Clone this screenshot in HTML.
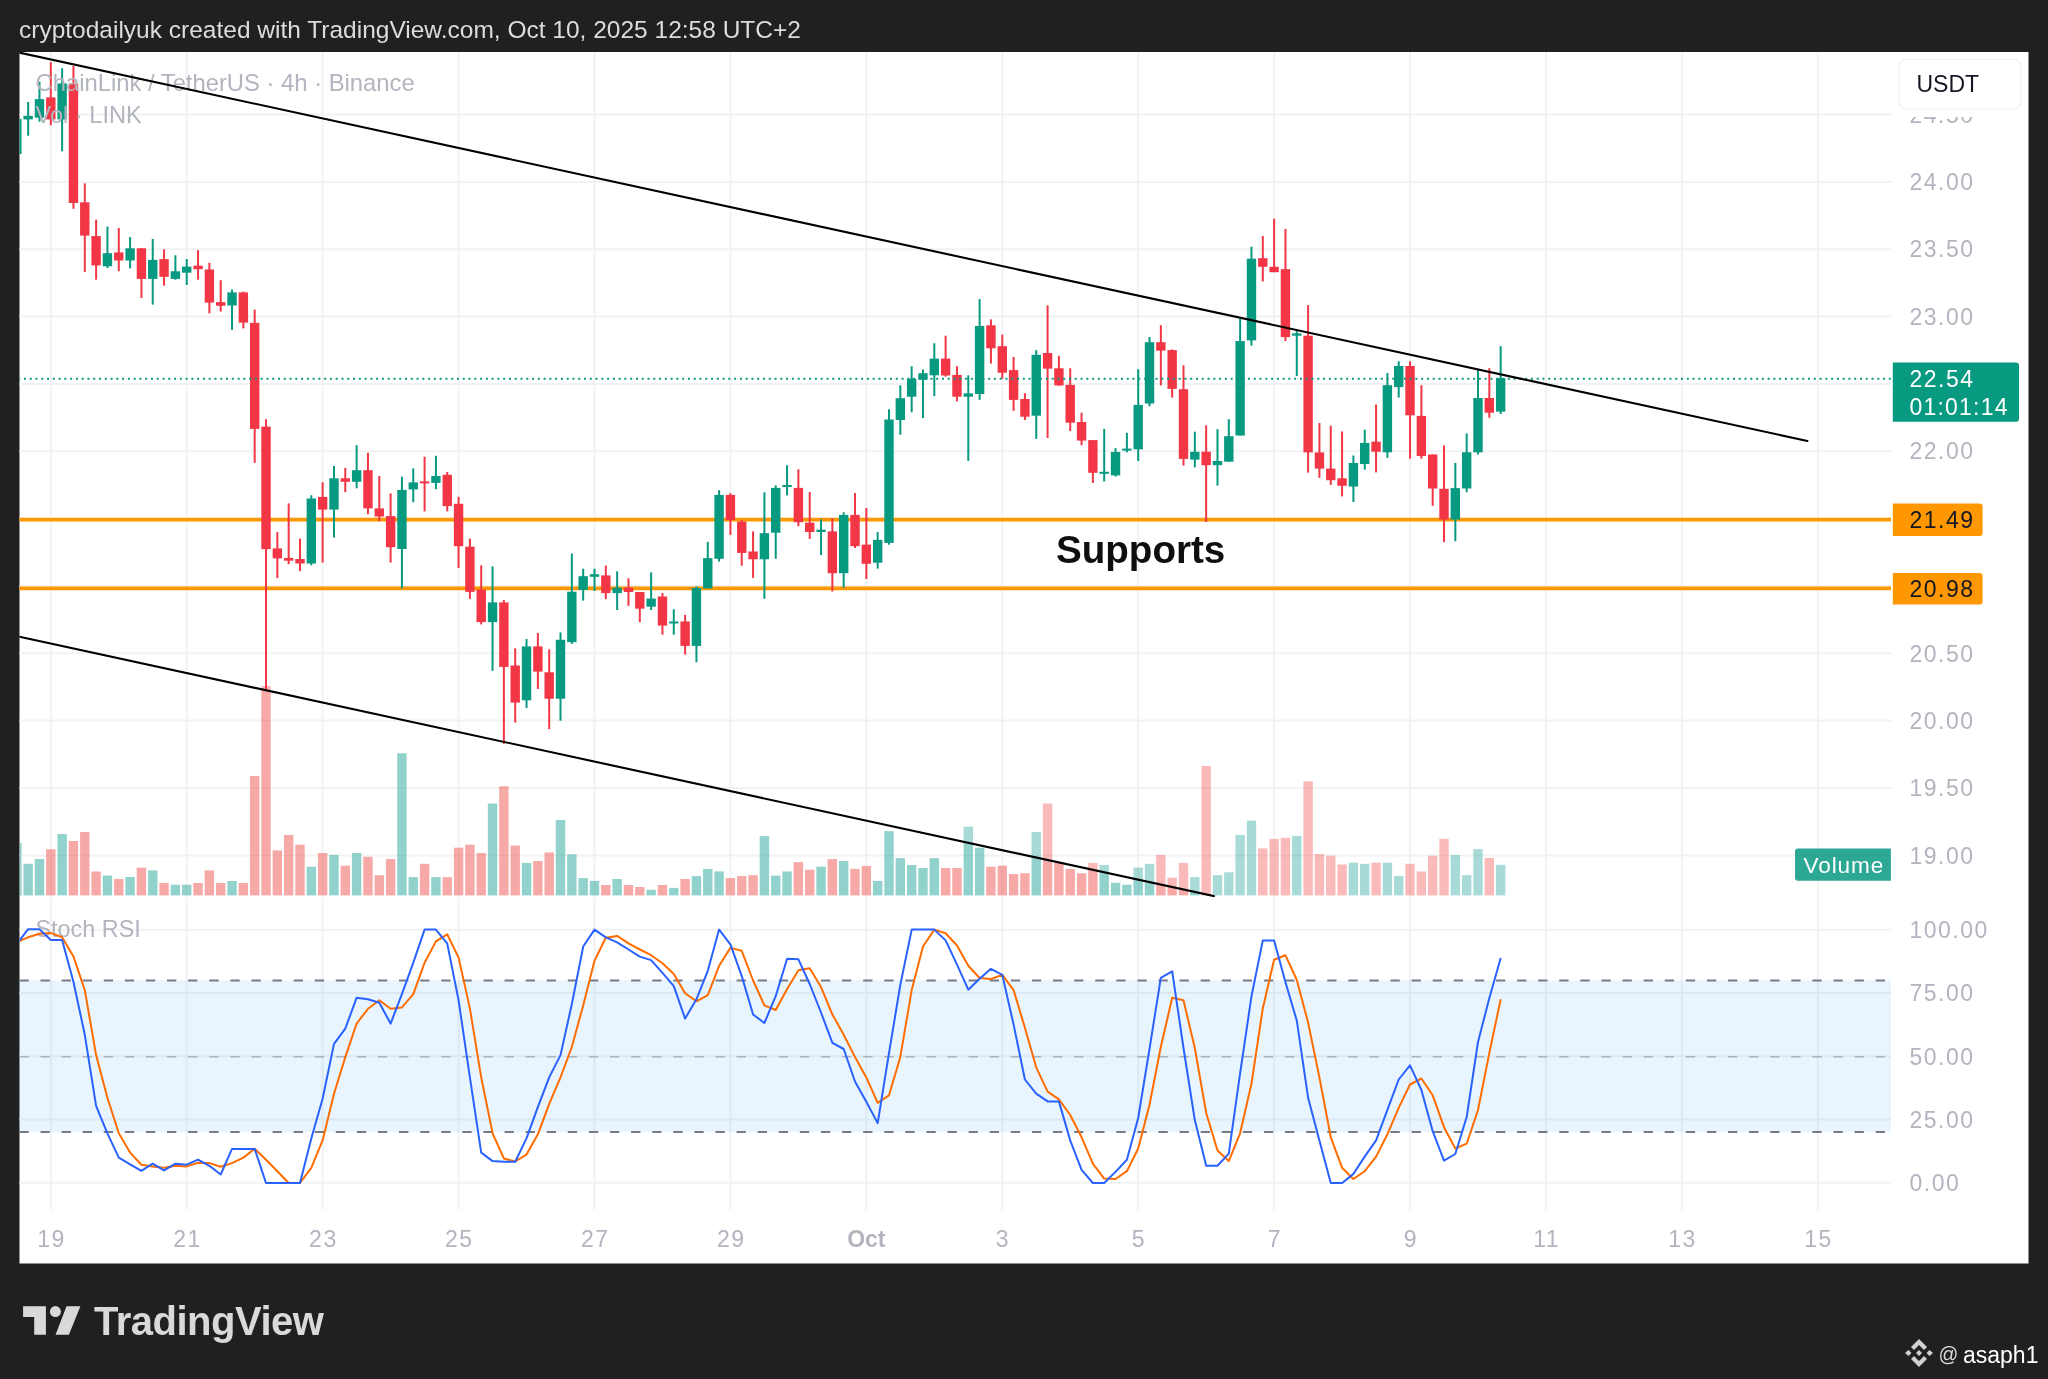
<!DOCTYPE html><html><head><meta charset="utf-8"><style>
html,body{margin:0;padding:0;background:#202020;width:2048px;height:1379px;overflow:hidden}
svg{position:absolute;left:0;top:0;font-family:"Liberation Sans",sans-serif;will-change:transform}
</style></head><body>
<svg width="2048" height="1379" viewBox="0 0 2048 1379">
<rect x="0" y="0" width="2048" height="1379" fill="#202020"/>
<rect x="19.5" y="52" width="2009" height="1211.5" fill="#ffffff"/>
<defs><clipPath id="cp"><rect x="19.5" y="52" width="1871.5" height="845"/></clipPath>
<clipPath id="cps"><rect x="19.5" y="898" width="1871.5" height="312"/></clipPath>
<clipPath id="below"><polygon points="19.5,636.7 1213.9,896.1 1213.9,900 19.5,900"/></clipPath>
<clipPath id="above"><polygon points="19.5,52 1891,52 1891,900 1213.9,900 1213.9,896.1 19.5,636.7"/></clipPath>
</defs>
<path d="M19.5 855.4H1891M19.5 788.0H1891M19.5 720.6H1891M19.5 653.3H1891M19.5 586.0H1891M19.5 518.6H1891M19.5 451.2H1891M19.5 383.9H1891M19.5 316.6H1891M19.5 249.2H1891M19.5 181.9H1891M19.5 114.5H1891M50.8 52V897M50.8 898V1210M186.7 52V897M186.7 898V1210M322.6 52V897M322.6 898V1210M458.6 52V897M458.6 898V1210M594.5 52V897M594.5 898V1210M730.4 52V897M730.4 898V1210M866.3 52V897M866.3 898V1210M1002.3 52V897M1002.3 898V1210M1138.2 52V897M1138.2 898V1210M1274.1 52V897M1274.1 898V1210M1410.0 52V897M1410.0 898V1210M1546.0 52V897M1546.0 898V1210M1681.9 52V897M1681.9 898V1210M1817.8 52V897M1817.8 898V1210M19.5 1182.7H1891M19.5 1119.5H1891M19.5 1056.2H1891M19.5 993.0H1891M19.5 929.8H1891" stroke="#f2f2f3" stroke-width="2" fill="none"/>
<rect x="19.5" y="980.4" width="1871.5" height="151.7" fill="#2196f3" fill-opacity="0.1"/>
<path d="M19.4 980.4H1891M19.4 1132.1H1891" stroke="#787b86" stroke-width="2" stroke-dasharray="9.3 11.794" fill="none"/>
<path d="M19.4 1056.7H1891" stroke="#787b86" stroke-opacity="0.5" stroke-width="1.6" stroke-dasharray="9.3 11.794" fill="none"/>
<g clip-path="url(#below)"><g clip-path="url(#cp)" fill-opacity="0.5"><rect x="12.12" y="843.0" width="9.4" height="52.4" fill="#26a69a"/><rect x="23.45" y="863.8" width="9.4" height="31.6" fill="#26a69a"/><rect x="34.77" y="859.0" width="9.4" height="36.4" fill="#26a69a"/><rect x="46.10" y="849.2" width="9.4" height="46.2" fill="#ef5350"/><rect x="57.43" y="834.0" width="9.4" height="61.4" fill="#26a69a"/><rect x="68.75" y="841.0" width="9.4" height="54.4" fill="#ef5350"/><rect x="80.08" y="832.0" width="9.4" height="63.4" fill="#ef5350"/><rect x="91.41" y="871.5" width="9.4" height="23.9" fill="#ef5350"/><rect x="102.73" y="875.5" width="9.4" height="19.9" fill="#26a69a"/><rect x="114.06" y="879.0" width="9.4" height="16.4" fill="#ef5350"/><rect x="125.39" y="877.0" width="9.4" height="18.4" fill="#26a69a"/><rect x="136.72" y="867.7" width="9.4" height="27.7" fill="#ef5350"/><rect x="148.04" y="870.4" width="9.4" height="25.0" fill="#26a69a"/><rect x="159.37" y="883.0" width="9.4" height="12.4" fill="#ef5350"/><rect x="170.70" y="884.7" width="9.4" height="10.7" fill="#26a69a"/><rect x="182.02" y="884.7" width="9.4" height="10.7" fill="#26a69a"/><rect x="193.35" y="883.0" width="9.4" height="12.4" fill="#ef5350"/><rect x="204.68" y="870.4" width="9.4" height="25.0" fill="#ef5350"/><rect x="216.00" y="883.0" width="9.4" height="12.4" fill="#ef5350"/><rect x="227.33" y="881.0" width="9.4" height="14.4" fill="#26a69a"/><rect x="238.66" y="883.0" width="9.4" height="12.4" fill="#ef5350"/><rect x="249.99" y="776.0" width="9.4" height="119.4" fill="#ef5350"/><rect x="261.31" y="686.0" width="9.4" height="209.4" fill="#ef5350"/><rect x="272.64" y="850.4" width="9.4" height="45.0" fill="#ef5350"/><rect x="283.97" y="835.0" width="9.4" height="60.4" fill="#ef5350"/><rect x="295.29" y="844.7" width="9.4" height="50.7" fill="#ef5350"/><rect x="306.62" y="866.7" width="9.4" height="28.7" fill="#26a69a"/><rect x="317.95" y="853.0" width="9.4" height="42.4" fill="#ef5350"/><rect x="329.28" y="854.9" width="9.4" height="40.5" fill="#26a69a"/><rect x="340.60" y="865.7" width="9.4" height="29.7" fill="#ef5350"/><rect x="351.93" y="853.0" width="9.4" height="42.4" fill="#26a69a"/><rect x="363.26" y="856.8" width="9.4" height="38.6" fill="#ef5350"/><rect x="374.58" y="875.2" width="9.4" height="20.2" fill="#ef5350"/><rect x="385.91" y="859.1" width="9.4" height="36.3" fill="#ef5350"/><rect x="397.24" y="753.3" width="9.4" height="142.1" fill="#26a69a"/><rect x="408.56" y="877.1" width="9.4" height="18.3" fill="#26a69a"/><rect x="419.89" y="863.8" width="9.4" height="31.6" fill="#ef5350"/><rect x="431.22" y="877.1" width="9.4" height="18.3" fill="#26a69a"/><rect x="442.55" y="877.1" width="9.4" height="18.3" fill="#ef5350"/><rect x="453.87" y="847.7" width="9.4" height="47.7" fill="#ef5350"/><rect x="465.20" y="844.7" width="9.4" height="50.7" fill="#ef5350"/><rect x="476.53" y="853.0" width="9.4" height="42.4" fill="#ef5350"/><rect x="487.85" y="803.5" width="9.4" height="91.9" fill="#26a69a"/><rect x="499.18" y="786.3" width="9.4" height="109.1" fill="#ef5350"/><rect x="510.51" y="845.5" width="9.4" height="49.9" fill="#ef5350"/><rect x="521.83" y="862.9" width="9.4" height="32.5" fill="#26a69a"/><rect x="533.16" y="861.0" width="9.4" height="34.4" fill="#ef5350"/><rect x="544.49" y="852.4" width="9.4" height="43.0" fill="#ef5350"/><rect x="555.81" y="820.0" width="9.4" height="75.4" fill="#26a69a"/><rect x="567.14" y="854.3" width="9.4" height="41.1" fill="#26a69a"/><rect x="578.47" y="878.1" width="9.4" height="17.3" fill="#26a69a"/><rect x="589.80" y="880.9" width="9.4" height="14.5" fill="#26a69a"/><rect x="601.12" y="885.0" width="9.4" height="10.4" fill="#ef5350"/><rect x="612.45" y="879.0" width="9.4" height="16.4" fill="#26a69a"/><rect x="623.78" y="885.0" width="9.4" height="10.4" fill="#ef5350"/><rect x="635.10" y="887.0" width="9.4" height="8.4" fill="#ef5350"/><rect x="646.43" y="889.8" width="9.4" height="5.6" fill="#26a69a"/><rect x="657.76" y="885.0" width="9.4" height="10.4" fill="#ef5350"/><rect x="669.08" y="887.9" width="9.4" height="7.5" fill="#26a69a"/><rect x="680.41" y="879.0" width="9.4" height="16.4" fill="#ef5350"/><rect x="691.74" y="876.1" width="9.4" height="19.3" fill="#26a69a"/><rect x="703.07" y="868.9" width="9.4" height="26.5" fill="#26a69a"/><rect x="714.39" y="871.4" width="9.4" height="24.0" fill="#26a69a"/><rect x="725.72" y="878.1" width="9.4" height="17.3" fill="#ef5350"/><rect x="737.05" y="876.1" width="9.4" height="19.3" fill="#ef5350"/><rect x="748.37" y="875.2" width="9.4" height="20.2" fill="#ef5350"/><rect x="759.70" y="836.1" width="9.4" height="59.3" fill="#26a69a"/><rect x="771.03" y="875.6" width="9.4" height="19.8" fill="#26a69a"/><rect x="782.35" y="871.4" width="9.4" height="24.0" fill="#26a69a"/><rect x="793.68" y="862.1" width="9.4" height="33.3" fill="#ef5350"/><rect x="805.01" y="869.7" width="9.4" height="25.7" fill="#ef5350"/><rect x="816.34" y="866.7" width="9.4" height="28.7" fill="#26a69a"/><rect x="827.66" y="859.1" width="9.4" height="36.3" fill="#ef5350"/><rect x="838.99" y="861.0" width="9.4" height="34.4" fill="#26a69a"/><rect x="850.32" y="868.9" width="9.4" height="26.5" fill="#ef5350"/><rect x="861.64" y="865.9" width="9.4" height="29.5" fill="#ef5350"/><rect x="872.97" y="880.9" width="9.4" height="14.5" fill="#26a69a"/><rect x="884.30" y="831.2" width="9.4" height="64.2" fill="#26a69a"/><rect x="895.62" y="858.1" width="9.4" height="37.3" fill="#26a69a"/><rect x="906.95" y="865.0" width="9.4" height="30.4" fill="#26a69a"/><rect x="918.28" y="868.0" width="9.4" height="27.4" fill="#26a69a"/><rect x="929.61" y="858.1" width="9.4" height="37.3" fill="#26a69a"/><rect x="940.93" y="868.0" width="9.4" height="27.4" fill="#ef5350"/><rect x="952.26" y="868.0" width="9.4" height="27.4" fill="#ef5350"/><rect x="963.59" y="826.6" width="9.4" height="68.8" fill="#26a69a"/><rect x="974.91" y="847.7" width="9.4" height="47.7" fill="#26a69a"/><rect x="986.24" y="866.7" width="9.4" height="28.7" fill="#ef5350"/><rect x="997.57" y="865.7" width="9.4" height="29.7" fill="#ef5350"/><rect x="1008.89" y="874.0" width="9.4" height="21.4" fill="#ef5350"/><rect x="1020.22" y="873.3" width="9.4" height="22.1" fill="#ef5350"/><rect x="1031.55" y="832.0" width="9.4" height="63.4" fill="#26a69a"/><rect x="1042.88" y="803.5" width="9.4" height="91.9" fill="#ef5350"/><rect x="1054.20" y="863.1" width="9.4" height="32.3" fill="#ef5350"/><rect x="1065.53" y="868.9" width="9.4" height="26.5" fill="#ef5350"/><rect x="1076.86" y="873.3" width="9.4" height="22.1" fill="#ef5350"/><rect x="1088.18" y="862.9" width="9.4" height="32.5" fill="#ef5350"/><rect x="1099.51" y="865.0" width="9.4" height="30.4" fill="#26a69a"/><rect x="1110.84" y="882.8" width="9.4" height="12.6" fill="#26a69a"/><rect x="1122.16" y="884.7" width="9.4" height="10.7" fill="#26a69a"/><rect x="1133.49" y="867.6" width="9.4" height="27.8" fill="#26a69a"/><rect x="1144.82" y="863.8" width="9.4" height="31.6" fill="#26a69a"/><rect x="1156.15" y="854.9" width="9.4" height="40.5" fill="#ef5350"/><rect x="1167.47" y="877.7" width="9.4" height="17.7" fill="#ef5350"/><rect x="1178.80" y="862.9" width="9.4" height="32.5" fill="#ef5350"/><rect x="1190.13" y="877.1" width="9.4" height="18.3" fill="#26a69a"/><rect x="1201.45" y="766.0" width="9.4" height="129.4" fill="#ef5350"/><rect x="1212.78" y="875.2" width="9.4" height="20.2" fill="#26a69a"/><rect x="1224.11" y="872.3" width="9.4" height="23.1" fill="#26a69a"/><rect x="1235.43" y="834.9" width="9.4" height="60.5" fill="#26a69a"/><rect x="1246.76" y="820.6" width="9.4" height="74.8" fill="#26a69a"/><rect x="1258.09" y="848.4" width="9.4" height="47.0" fill="#ef5350"/><rect x="1269.42" y="838.9" width="9.4" height="56.5" fill="#ef5350"/><rect x="1280.74" y="837.8" width="9.4" height="57.6" fill="#ef5350"/><rect x="1292.07" y="835.9" width="9.4" height="59.5" fill="#26a69a"/><rect x="1303.40" y="781.3" width="9.4" height="114.1" fill="#ef5350"/><rect x="1314.72" y="854.0" width="9.4" height="41.4" fill="#ef5350"/><rect x="1326.05" y="855.7" width="9.4" height="39.7" fill="#ef5350"/><rect x="1337.38" y="864.5" width="9.4" height="30.9" fill="#ef5350"/><rect x="1348.70" y="862.7" width="9.4" height="32.7" fill="#26a69a"/><rect x="1360.03" y="863.8" width="9.4" height="31.6" fill="#26a69a"/><rect x="1371.36" y="862.7" width="9.4" height="32.7" fill="#ef5350"/><rect x="1382.69" y="862.7" width="9.4" height="32.7" fill="#26a69a"/><rect x="1394.01" y="875.9" width="9.4" height="19.5" fill="#26a69a"/><rect x="1405.34" y="863.8" width="9.4" height="31.6" fill="#ef5350"/><rect x="1416.67" y="871.5" width="9.4" height="23.9" fill="#ef5350"/><rect x="1427.99" y="855.7" width="9.4" height="39.7" fill="#ef5350"/><rect x="1439.32" y="838.9" width="9.4" height="56.5" fill="#ef5350"/><rect x="1450.65" y="855.0" width="9.4" height="40.4" fill="#26a69a"/><rect x="1461.97" y="875.1" width="9.4" height="20.3" fill="#26a69a"/><rect x="1473.30" y="849.1" width="9.4" height="46.3" fill="#26a69a"/><rect x="1484.63" y="857.9" width="9.4" height="37.5" fill="#ef5350"/><rect x="1495.96" y="864.8" width="9.4" height="30.6" fill="#26a69a"/></g></g>
<g clip-path="url(#above)"><g clip-path="url(#cp)" fill-opacity="0.4"><rect x="12.12" y="843.0" width="9.4" height="52.4" fill="#26a69a"/><rect x="23.45" y="863.8" width="9.4" height="31.6" fill="#26a69a"/><rect x="34.77" y="859.0" width="9.4" height="36.4" fill="#26a69a"/><rect x="46.10" y="849.2" width="9.4" height="46.2" fill="#ef5350"/><rect x="57.43" y="834.0" width="9.4" height="61.4" fill="#26a69a"/><rect x="68.75" y="841.0" width="9.4" height="54.4" fill="#ef5350"/><rect x="80.08" y="832.0" width="9.4" height="63.4" fill="#ef5350"/><rect x="91.41" y="871.5" width="9.4" height="23.9" fill="#ef5350"/><rect x="102.73" y="875.5" width="9.4" height="19.9" fill="#26a69a"/><rect x="114.06" y="879.0" width="9.4" height="16.4" fill="#ef5350"/><rect x="125.39" y="877.0" width="9.4" height="18.4" fill="#26a69a"/><rect x="136.72" y="867.7" width="9.4" height="27.7" fill="#ef5350"/><rect x="148.04" y="870.4" width="9.4" height="25.0" fill="#26a69a"/><rect x="159.37" y="883.0" width="9.4" height="12.4" fill="#ef5350"/><rect x="170.70" y="884.7" width="9.4" height="10.7" fill="#26a69a"/><rect x="182.02" y="884.7" width="9.4" height="10.7" fill="#26a69a"/><rect x="193.35" y="883.0" width="9.4" height="12.4" fill="#ef5350"/><rect x="204.68" y="870.4" width="9.4" height="25.0" fill="#ef5350"/><rect x="216.00" y="883.0" width="9.4" height="12.4" fill="#ef5350"/><rect x="227.33" y="881.0" width="9.4" height="14.4" fill="#26a69a"/><rect x="238.66" y="883.0" width="9.4" height="12.4" fill="#ef5350"/><rect x="249.99" y="776.0" width="9.4" height="119.4" fill="#ef5350"/><rect x="261.31" y="686.0" width="9.4" height="209.4" fill="#ef5350"/><rect x="272.64" y="850.4" width="9.4" height="45.0" fill="#ef5350"/><rect x="283.97" y="835.0" width="9.4" height="60.4" fill="#ef5350"/><rect x="295.29" y="844.7" width="9.4" height="50.7" fill="#ef5350"/><rect x="306.62" y="866.7" width="9.4" height="28.7" fill="#26a69a"/><rect x="317.95" y="853.0" width="9.4" height="42.4" fill="#ef5350"/><rect x="329.28" y="854.9" width="9.4" height="40.5" fill="#26a69a"/><rect x="340.60" y="865.7" width="9.4" height="29.7" fill="#ef5350"/><rect x="351.93" y="853.0" width="9.4" height="42.4" fill="#26a69a"/><rect x="363.26" y="856.8" width="9.4" height="38.6" fill="#ef5350"/><rect x="374.58" y="875.2" width="9.4" height="20.2" fill="#ef5350"/><rect x="385.91" y="859.1" width="9.4" height="36.3" fill="#ef5350"/><rect x="397.24" y="753.3" width="9.4" height="142.1" fill="#26a69a"/><rect x="408.56" y="877.1" width="9.4" height="18.3" fill="#26a69a"/><rect x="419.89" y="863.8" width="9.4" height="31.6" fill="#ef5350"/><rect x="431.22" y="877.1" width="9.4" height="18.3" fill="#26a69a"/><rect x="442.55" y="877.1" width="9.4" height="18.3" fill="#ef5350"/><rect x="453.87" y="847.7" width="9.4" height="47.7" fill="#ef5350"/><rect x="465.20" y="844.7" width="9.4" height="50.7" fill="#ef5350"/><rect x="476.53" y="853.0" width="9.4" height="42.4" fill="#ef5350"/><rect x="487.85" y="803.5" width="9.4" height="91.9" fill="#26a69a"/><rect x="499.18" y="786.3" width="9.4" height="109.1" fill="#ef5350"/><rect x="510.51" y="845.5" width="9.4" height="49.9" fill="#ef5350"/><rect x="521.83" y="862.9" width="9.4" height="32.5" fill="#26a69a"/><rect x="533.16" y="861.0" width="9.4" height="34.4" fill="#ef5350"/><rect x="544.49" y="852.4" width="9.4" height="43.0" fill="#ef5350"/><rect x="555.81" y="820.0" width="9.4" height="75.4" fill="#26a69a"/><rect x="567.14" y="854.3" width="9.4" height="41.1" fill="#26a69a"/><rect x="578.47" y="878.1" width="9.4" height="17.3" fill="#26a69a"/><rect x="589.80" y="880.9" width="9.4" height="14.5" fill="#26a69a"/><rect x="601.12" y="885.0" width="9.4" height="10.4" fill="#ef5350"/><rect x="612.45" y="879.0" width="9.4" height="16.4" fill="#26a69a"/><rect x="623.78" y="885.0" width="9.4" height="10.4" fill="#ef5350"/><rect x="635.10" y="887.0" width="9.4" height="8.4" fill="#ef5350"/><rect x="646.43" y="889.8" width="9.4" height="5.6" fill="#26a69a"/><rect x="657.76" y="885.0" width="9.4" height="10.4" fill="#ef5350"/><rect x="669.08" y="887.9" width="9.4" height="7.5" fill="#26a69a"/><rect x="680.41" y="879.0" width="9.4" height="16.4" fill="#ef5350"/><rect x="691.74" y="876.1" width="9.4" height="19.3" fill="#26a69a"/><rect x="703.07" y="868.9" width="9.4" height="26.5" fill="#26a69a"/><rect x="714.39" y="871.4" width="9.4" height="24.0" fill="#26a69a"/><rect x="725.72" y="878.1" width="9.4" height="17.3" fill="#ef5350"/><rect x="737.05" y="876.1" width="9.4" height="19.3" fill="#ef5350"/><rect x="748.37" y="875.2" width="9.4" height="20.2" fill="#ef5350"/><rect x="759.70" y="836.1" width="9.4" height="59.3" fill="#26a69a"/><rect x="771.03" y="875.6" width="9.4" height="19.8" fill="#26a69a"/><rect x="782.35" y="871.4" width="9.4" height="24.0" fill="#26a69a"/><rect x="793.68" y="862.1" width="9.4" height="33.3" fill="#ef5350"/><rect x="805.01" y="869.7" width="9.4" height="25.7" fill="#ef5350"/><rect x="816.34" y="866.7" width="9.4" height="28.7" fill="#26a69a"/><rect x="827.66" y="859.1" width="9.4" height="36.3" fill="#ef5350"/><rect x="838.99" y="861.0" width="9.4" height="34.4" fill="#26a69a"/><rect x="850.32" y="868.9" width="9.4" height="26.5" fill="#ef5350"/><rect x="861.64" y="865.9" width="9.4" height="29.5" fill="#ef5350"/><rect x="872.97" y="880.9" width="9.4" height="14.5" fill="#26a69a"/><rect x="884.30" y="831.2" width="9.4" height="64.2" fill="#26a69a"/><rect x="895.62" y="858.1" width="9.4" height="37.3" fill="#26a69a"/><rect x="906.95" y="865.0" width="9.4" height="30.4" fill="#26a69a"/><rect x="918.28" y="868.0" width="9.4" height="27.4" fill="#26a69a"/><rect x="929.61" y="858.1" width="9.4" height="37.3" fill="#26a69a"/><rect x="940.93" y="868.0" width="9.4" height="27.4" fill="#ef5350"/><rect x="952.26" y="868.0" width="9.4" height="27.4" fill="#ef5350"/><rect x="963.59" y="826.6" width="9.4" height="68.8" fill="#26a69a"/><rect x="974.91" y="847.7" width="9.4" height="47.7" fill="#26a69a"/><rect x="986.24" y="866.7" width="9.4" height="28.7" fill="#ef5350"/><rect x="997.57" y="865.7" width="9.4" height="29.7" fill="#ef5350"/><rect x="1008.89" y="874.0" width="9.4" height="21.4" fill="#ef5350"/><rect x="1020.22" y="873.3" width="9.4" height="22.1" fill="#ef5350"/><rect x="1031.55" y="832.0" width="9.4" height="63.4" fill="#26a69a"/><rect x="1042.88" y="803.5" width="9.4" height="91.9" fill="#ef5350"/><rect x="1054.20" y="863.1" width="9.4" height="32.3" fill="#ef5350"/><rect x="1065.53" y="868.9" width="9.4" height="26.5" fill="#ef5350"/><rect x="1076.86" y="873.3" width="9.4" height="22.1" fill="#ef5350"/><rect x="1088.18" y="862.9" width="9.4" height="32.5" fill="#ef5350"/><rect x="1099.51" y="865.0" width="9.4" height="30.4" fill="#26a69a"/><rect x="1110.84" y="882.8" width="9.4" height="12.6" fill="#26a69a"/><rect x="1122.16" y="884.7" width="9.4" height="10.7" fill="#26a69a"/><rect x="1133.49" y="867.6" width="9.4" height="27.8" fill="#26a69a"/><rect x="1144.82" y="863.8" width="9.4" height="31.6" fill="#26a69a"/><rect x="1156.15" y="854.9" width="9.4" height="40.5" fill="#ef5350"/><rect x="1167.47" y="877.7" width="9.4" height="17.7" fill="#ef5350"/><rect x="1178.80" y="862.9" width="9.4" height="32.5" fill="#ef5350"/><rect x="1190.13" y="877.1" width="9.4" height="18.3" fill="#26a69a"/><rect x="1201.45" y="766.0" width="9.4" height="129.4" fill="#ef5350"/><rect x="1212.78" y="875.2" width="9.4" height="20.2" fill="#26a69a"/><rect x="1224.11" y="872.3" width="9.4" height="23.1" fill="#26a69a"/><rect x="1235.43" y="834.9" width="9.4" height="60.5" fill="#26a69a"/><rect x="1246.76" y="820.6" width="9.4" height="74.8" fill="#26a69a"/><rect x="1258.09" y="848.4" width="9.4" height="47.0" fill="#ef5350"/><rect x="1269.42" y="838.9" width="9.4" height="56.5" fill="#ef5350"/><rect x="1280.74" y="837.8" width="9.4" height="57.6" fill="#ef5350"/><rect x="1292.07" y="835.9" width="9.4" height="59.5" fill="#26a69a"/><rect x="1303.40" y="781.3" width="9.4" height="114.1" fill="#ef5350"/><rect x="1314.72" y="854.0" width="9.4" height="41.4" fill="#ef5350"/><rect x="1326.05" y="855.7" width="9.4" height="39.7" fill="#ef5350"/><rect x="1337.38" y="864.5" width="9.4" height="30.9" fill="#ef5350"/><rect x="1348.70" y="862.7" width="9.4" height="32.7" fill="#26a69a"/><rect x="1360.03" y="863.8" width="9.4" height="31.6" fill="#26a69a"/><rect x="1371.36" y="862.7" width="9.4" height="32.7" fill="#ef5350"/><rect x="1382.69" y="862.7" width="9.4" height="32.7" fill="#26a69a"/><rect x="1394.01" y="875.9" width="9.4" height="19.5" fill="#26a69a"/><rect x="1405.34" y="863.8" width="9.4" height="31.6" fill="#ef5350"/><rect x="1416.67" y="871.5" width="9.4" height="23.9" fill="#ef5350"/><rect x="1427.99" y="855.7" width="9.4" height="39.7" fill="#ef5350"/><rect x="1439.32" y="838.9" width="9.4" height="56.5" fill="#ef5350"/><rect x="1450.65" y="855.0" width="9.4" height="40.4" fill="#26a69a"/><rect x="1461.97" y="875.1" width="9.4" height="20.3" fill="#26a69a"/><rect x="1473.30" y="849.1" width="9.4" height="46.3" fill="#26a69a"/><rect x="1484.63" y="857.9" width="9.4" height="37.5" fill="#ef5350"/><rect x="1495.96" y="864.8" width="9.4" height="30.6" fill="#26a69a"/></g></g>
<path d="M19.5 519.7H1891M19.5 588.4H1891" stroke="#ff9800" stroke-width="3.8" fill="none"/>
<g clip-path="url(#cp)"><rect x="15.82" y="119.0" width="2" height="35.0" fill="#089981"/><rect x="12.12" y="119.0" width="9.4" height="35.0" fill="#089981"/><rect x="27.15" y="102.0" width="2" height="33.7" fill="#089981"/><rect x="23.45" y="115.9" width="9.4" height="3.5" fill="#089981"/><rect x="38.47" y="81.7" width="2" height="40.0" fill="#089981"/><rect x="34.77" y="99.1" width="9.4" height="18.6" fill="#089981"/><rect x="49.80" y="62.2" width="2" height="63.0" fill="#f23645"/><rect x="46.10" y="97.4" width="9.4" height="22.0" fill="#f23645"/><rect x="61.13" y="68.3" width="2" height="83.0" fill="#089981"/><rect x="57.43" y="83.4" width="9.4" height="36.0" fill="#089981"/><rect x="72.45" y="66.0" width="2" height="142.8" fill="#f23645"/><rect x="68.75" y="83.4" width="9.4" height="119.6" fill="#f23645"/><rect x="83.78" y="183.3" width="2" height="88.8" fill="#f23645"/><rect x="80.08" y="202.3" width="9.4" height="33.3" fill="#f23645"/><rect x="95.11" y="219.7" width="2" height="60.0" fill="#f23645"/><rect x="91.41" y="236.1" width="9.4" height="29.3" fill="#f23645"/><rect x="106.44" y="226.5" width="2" height="41.6" fill="#089981"/><rect x="102.73" y="253.2" width="9.4" height="13.1" fill="#089981"/><rect x="117.76" y="228.0" width="2" height="43.2" fill="#f23645"/><rect x="114.06" y="252.4" width="9.4" height="8.1" fill="#f23645"/><rect x="129.09" y="237.1" width="2" height="31.3" fill="#089981"/><rect x="125.39" y="248.3" width="9.4" height="12.2" fill="#089981"/><rect x="140.42" y="248.3" width="2" height="49.7" fill="#f23645"/><rect x="136.72" y="248.3" width="9.4" height="30.6" fill="#f23645"/><rect x="151.74" y="239.0" width="2" height="65.6" fill="#089981"/><rect x="148.04" y="259.9" width="9.4" height="19.0" fill="#089981"/><rect x="163.07" y="249.3" width="2" height="36.4" fill="#f23645"/><rect x="159.37" y="259.1" width="9.4" height="17.7" fill="#f23645"/><rect x="174.40" y="255.3" width="2" height="24.4" fill="#089981"/><rect x="170.70" y="271.3" width="9.4" height="7.6" fill="#089981"/><rect x="185.72" y="259.1" width="2" height="25.8" fill="#089981"/><rect x="182.02" y="266.6" width="9.4" height="6.1" fill="#089981"/><rect x="197.05" y="250.1" width="2" height="29.6" fill="#f23645"/><rect x="193.35" y="265.7" width="9.4" height="3.5" fill="#f23645"/><rect x="208.38" y="262.8" width="2" height="50.5" fill="#f23645"/><rect x="204.68" y="269.5" width="9.4" height="33.1" fill="#f23645"/><rect x="219.70" y="280.2" width="2" height="31.4" fill="#f23645"/><rect x="216.00" y="302.1" width="9.4" height="3.7" fill="#f23645"/><rect x="231.03" y="289.5" width="2" height="40.4" fill="#089981"/><rect x="227.33" y="292.4" width="9.4" height="13.1" fill="#089981"/><rect x="242.36" y="291.6" width="2" height="36.8" fill="#f23645"/><rect x="238.66" y="292.4" width="9.4" height="30.2" fill="#f23645"/><rect x="253.69" y="309.7" width="2" height="153.1" fill="#f23645"/><rect x="249.99" y="322.9" width="9.4" height="106.0" fill="#f23645"/><rect x="265.01" y="419.2" width="2" height="270.8" fill="#f23645"/><rect x="261.31" y="426.6" width="9.4" height="122.5" fill="#f23645"/><rect x="276.34" y="532.1" width="2" height="46.0" fill="#f23645"/><rect x="272.64" y="548.4" width="9.4" height="10.0" fill="#f23645"/><rect x="287.67" y="503.4" width="2" height="60.8" fill="#f23645"/><rect x="283.97" y="557.9" width="9.4" height="2.8" fill="#f23645"/><rect x="298.99" y="538.6" width="2" height="32.5" fill="#f23645"/><rect x="295.29" y="559.0" width="9.4" height="4.5" fill="#f23645"/><rect x="310.32" y="495.3" width="2" height="70.0" fill="#089981"/><rect x="306.62" y="498.5" width="9.4" height="65.0" fill="#089981"/><rect x="321.65" y="482.3" width="2" height="80.2" fill="#f23645"/><rect x="317.95" y="496.9" width="9.4" height="12.7" fill="#f23645"/><rect x="332.98" y="466.0" width="2" height="71.5" fill="#089981"/><rect x="329.28" y="478.3" width="9.4" height="31.3" fill="#089981"/><rect x="344.30" y="467.9" width="2" height="24.3" fill="#f23645"/><rect x="340.60" y="478.3" width="9.4" height="3.5" fill="#f23645"/><rect x="355.63" y="445.2" width="2" height="43.1" fill="#089981"/><rect x="351.93" y="470.2" width="9.4" height="11.6" fill="#089981"/><rect x="366.96" y="452.8" width="2" height="61.4" fill="#f23645"/><rect x="363.26" y="470.2" width="9.4" height="38.2" fill="#f23645"/><rect x="378.28" y="476.0" width="2" height="45.2" fill="#f23645"/><rect x="374.58" y="508.4" width="9.4" height="8.1" fill="#f23645"/><rect x="389.61" y="493.4" width="2" height="69.1" fill="#f23645"/><rect x="385.91" y="516.1" width="9.4" height="31.1" fill="#f23645"/><rect x="400.94" y="476.7" width="2" height="111.8" fill="#089981"/><rect x="397.24" y="489.9" width="9.4" height="59.1" fill="#089981"/><rect x="412.26" y="468.3" width="2" height="33.9" fill="#089981"/><rect x="408.56" y="482.4" width="9.4" height="7.0" fill="#089981"/><rect x="423.59" y="456.7" width="2" height="54.7" fill="#f23645"/><rect x="419.89" y="481.4" width="9.4" height="2.0" fill="#f23645"/><rect x="434.92" y="455.8" width="2" height="33.4" fill="#089981"/><rect x="431.22" y="476.0" width="9.4" height="6.9" fill="#089981"/><rect x="446.25" y="472.0" width="2" height="39.4" fill="#f23645"/><rect x="442.55" y="474.8" width="9.4" height="31.3" fill="#f23645"/><rect x="457.57" y="496.8" width="2" height="71.2" fill="#f23645"/><rect x="453.87" y="503.8" width="9.4" height="42.4" fill="#f23645"/><rect x="468.90" y="538.6" width="2" height="60.3" fill="#f23645"/><rect x="465.20" y="546.7" width="9.4" height="45.2" fill="#f23645"/><rect x="480.23" y="565.3" width="2" height="59.1" fill="#f23645"/><rect x="476.53" y="589.6" width="9.4" height="32.5" fill="#f23645"/><rect x="491.55" y="566.4" width="2" height="104.4" fill="#089981"/><rect x="487.85" y="602.4" width="9.4" height="19.7" fill="#089981"/><rect x="502.88" y="600.0" width="2" height="143.9" fill="#f23645"/><rect x="499.18" y="602.4" width="9.4" height="64.5" fill="#f23645"/><rect x="514.21" y="648.3" width="2" height="74.2" fill="#f23645"/><rect x="510.51" y="665.5" width="9.4" height="37.1" fill="#f23645"/><rect x="525.53" y="639.0" width="2" height="68.9" fill="#089981"/><rect x="521.83" y="646.4" width="9.4" height="53.9" fill="#089981"/><rect x="536.86" y="633.0" width="2" height="56.0" fill="#f23645"/><rect x="533.16" y="646.4" width="9.4" height="25.2" fill="#f23645"/><rect x="548.19" y="649.4" width="2" height="79.8" fill="#f23645"/><rect x="544.49" y="672.3" width="9.4" height="26.4" fill="#f23645"/><rect x="559.51" y="632.3" width="2" height="88.4" fill="#089981"/><rect x="555.81" y="639.8" width="9.4" height="58.9" fill="#089981"/><rect x="570.84" y="553.5" width="2" height="90.4" fill="#089981"/><rect x="567.14" y="591.7" width="9.4" height="50.5" fill="#089981"/><rect x="582.17" y="568.7" width="2" height="31.9" fill="#089981"/><rect x="578.47" y="576.2" width="9.4" height="13.8" fill="#089981"/><rect x="593.50" y="568.7" width="2" height="22.3" fill="#089981"/><rect x="589.80" y="574.2" width="9.4" height="2.6" fill="#089981"/><rect x="604.82" y="565.6" width="2" height="33.6" fill="#f23645"/><rect x="601.12" y="575.4" width="9.4" height="17.7" fill="#f23645"/><rect x="616.15" y="571.3" width="2" height="38.7" fill="#089981"/><rect x="612.45" y="587.6" width="9.4" height="5.5" fill="#089981"/><rect x="627.48" y="578.2" width="2" height="27.7" fill="#f23645"/><rect x="623.78" y="587.6" width="9.4" height="4.4" fill="#f23645"/><rect x="638.80" y="592.0" width="2" height="30.1" fill="#f23645"/><rect x="635.10" y="592.0" width="9.4" height="16.7" fill="#f23645"/><rect x="650.13" y="572.4" width="2" height="37.6" fill="#089981"/><rect x="646.43" y="598.6" width="9.4" height="8.1" fill="#089981"/><rect x="661.46" y="593.1" width="2" height="41.6" fill="#f23645"/><rect x="657.76" y="596.5" width="9.4" height="29.1" fill="#f23645"/><rect x="672.78" y="609.3" width="2" height="25.4" fill="#089981"/><rect x="669.08" y="621.5" width="9.4" height="2.0" fill="#089981"/><rect x="684.11" y="614.8" width="2" height="39.8" fill="#f23645"/><rect x="680.41" y="621.5" width="9.4" height="24.4" fill="#f23645"/><rect x="695.44" y="586.4" width="2" height="75.8" fill="#089981"/><rect x="691.74" y="588.0" width="9.4" height="57.9" fill="#089981"/><rect x="706.77" y="541.9" width="2" height="46.5" fill="#089981"/><rect x="703.07" y="558.1" width="9.4" height="30.3" fill="#089981"/><rect x="718.09" y="490.2" width="2" height="71.4" fill="#089981"/><rect x="714.39" y="494.9" width="9.4" height="63.9" fill="#089981"/><rect x="729.42" y="493.1" width="2" height="41.8" fill="#f23645"/><rect x="725.72" y="494.9" width="9.4" height="25.2" fill="#f23645"/><rect x="740.75" y="520.1" width="2" height="45.6" fill="#f23645"/><rect x="737.05" y="521.5" width="9.4" height="31.4" fill="#f23645"/><rect x="752.07" y="531.4" width="2" height="46.5" fill="#f23645"/><rect x="748.37" y="551.5" width="9.4" height="7.8" fill="#f23645"/><rect x="763.40" y="492.3" width="2" height="106.5" fill="#089981"/><rect x="759.70" y="533.2" width="9.4" height="26.1" fill="#089981"/><rect x="774.73" y="485.3" width="2" height="73.5" fill="#089981"/><rect x="771.03" y="487.9" width="9.4" height="44.8" fill="#089981"/><rect x="786.05" y="465.3" width="2" height="30.1" fill="#089981"/><rect x="782.35" y="485.0" width="9.4" height="2.0" fill="#089981"/><rect x="797.38" y="469.3" width="2" height="56.9" fill="#f23645"/><rect x="793.68" y="487.9" width="9.4" height="34.3" fill="#f23645"/><rect x="808.71" y="491.9" width="2" height="47.0" fill="#f23645"/><rect x="805.01" y="522.7" width="9.4" height="9.3" fill="#f23645"/><rect x="820.04" y="519.3" width="2" height="35.7" fill="#089981"/><rect x="816.34" y="529.7" width="9.4" height="2.3" fill="#089981"/><rect x="831.36" y="518.4" width="2" height="73.1" fill="#f23645"/><rect x="827.66" y="531.4" width="9.4" height="41.8" fill="#f23645"/><rect x="842.69" y="512.3" width="2" height="75.4" fill="#089981"/><rect x="838.99" y="514.9" width="9.4" height="58.3" fill="#089981"/><rect x="854.02" y="493.1" width="2" height="54.9" fill="#f23645"/><rect x="850.32" y="514.9" width="9.4" height="31.3" fill="#f23645"/><rect x="865.34" y="508.0" width="2" height="71.0" fill="#f23645"/><rect x="861.64" y="544.6" width="9.4" height="19.2" fill="#f23645"/><rect x="876.67" y="532.1" width="2" height="36.5" fill="#089981"/><rect x="872.97" y="539.9" width="9.4" height="22.8" fill="#089981"/><rect x="888.00" y="409.3" width="2" height="135.4" fill="#089981"/><rect x="884.30" y="419.5" width="9.4" height="123.4" fill="#089981"/><rect x="899.32" y="385.3" width="2" height="49.5" fill="#089981"/><rect x="895.62" y="398.2" width="9.4" height="21.8" fill="#089981"/><rect x="910.65" y="366.2" width="2" height="46.1" fill="#089981"/><rect x="906.95" y="378.8" width="9.4" height="17.9" fill="#089981"/><rect x="921.98" y="369.5" width="2" height="48.5" fill="#089981"/><rect x="918.28" y="373.2" width="9.4" height="6.5" fill="#089981"/><rect x="933.31" y="343.3" width="2" height="52.9" fill="#089981"/><rect x="929.61" y="358.6" width="9.4" height="16.7" fill="#089981"/><rect x="944.63" y="335.7" width="2" height="40.9" fill="#f23645"/><rect x="940.93" y="358.6" width="9.4" height="16.9" fill="#f23645"/><rect x="955.96" y="366.2" width="2" height="35.2" fill="#f23645"/><rect x="952.26" y="374.9" width="9.4" height="21.8" fill="#f23645"/><rect x="967.29" y="375.3" width="2" height="85.6" fill="#089981"/><rect x="963.59" y="393.4" width="9.4" height="3.3" fill="#089981"/><rect x="978.61" y="299.1" width="2" height="100.8" fill="#089981"/><rect x="974.91" y="325.9" width="9.4" height="68.1" fill="#089981"/><rect x="989.94" y="319.4" width="2" height="44.2" fill="#f23645"/><rect x="986.24" y="325.3" width="9.4" height="23.0" fill="#f23645"/><rect x="1001.27" y="334.6" width="2" height="44.2" fill="#f23645"/><rect x="997.57" y="346.2" width="9.4" height="26.5" fill="#f23645"/><rect x="1012.59" y="357.0" width="2" height="53.8" fill="#f23645"/><rect x="1008.89" y="370.1" width="9.4" height="29.8" fill="#f23645"/><rect x="1023.92" y="393.2" width="2" height="26.8" fill="#f23645"/><rect x="1020.22" y="399.0" width="9.4" height="17.7" fill="#f23645"/><rect x="1035.25" y="350.1" width="2" height="88.8" fill="#089981"/><rect x="1031.55" y="354.8" width="9.4" height="60.9" fill="#089981"/><rect x="1046.58" y="305.3" width="2" height="132.7" fill="#f23645"/><rect x="1042.88" y="353.0" width="9.4" height="15.7" fill="#f23645"/><rect x="1057.90" y="355.8" width="2" height="30.0" fill="#f23645"/><rect x="1054.20" y="368.3" width="9.4" height="17.1" fill="#f23645"/><rect x="1069.23" y="368.3" width="2" height="62.7" fill="#f23645"/><rect x="1065.53" y="384.9" width="9.4" height="37.8" fill="#f23645"/><rect x="1080.56" y="412.7" width="2" height="32.6" fill="#f23645"/><rect x="1076.86" y="422.0" width="9.4" height="18.6" fill="#f23645"/><rect x="1091.88" y="440.1" width="2" height="42.8" fill="#f23645"/><rect x="1088.18" y="440.1" width="9.4" height="32.7" fill="#f23645"/><rect x="1103.21" y="428.9" width="2" height="52.6" fill="#089981"/><rect x="1099.51" y="471.8" width="9.4" height="2.0" fill="#089981"/><rect x="1114.54" y="448.1" width="2" height="28.5" fill="#089981"/><rect x="1110.84" y="451.9" width="9.4" height="23.5" fill="#089981"/><rect x="1125.87" y="432.8" width="2" height="19.5" fill="#089981"/><rect x="1122.16" y="448.6" width="9.4" height="2.0" fill="#089981"/><rect x="1137.19" y="369.2" width="2" height="91.8" fill="#089981"/><rect x="1133.49" y="404.9" width="9.4" height="44.4" fill="#089981"/><rect x="1148.52" y="337.0" width="2" height="69.3" fill="#089981"/><rect x="1144.82" y="342.2" width="9.4" height="61.3" fill="#089981"/><rect x="1159.85" y="325.2" width="2" height="60.2" fill="#f23645"/><rect x="1156.15" y="342.2" width="9.4" height="8.4" fill="#f23645"/><rect x="1171.17" y="349.5" width="2" height="48.1" fill="#f23645"/><rect x="1167.47" y="350.1" width="9.4" height="38.8" fill="#f23645"/><rect x="1182.50" y="365.3" width="2" height="100.2" fill="#f23645"/><rect x="1178.80" y="389.2" width="9.4" height="69.7" fill="#f23645"/><rect x="1193.83" y="431.7" width="2" height="35.6" fill="#089981"/><rect x="1190.13" y="451.8" width="9.4" height="7.8" fill="#089981"/><rect x="1205.15" y="425.3" width="2" height="96.7" fill="#f23645"/><rect x="1201.45" y="451.7" width="9.4" height="13.5" fill="#f23645"/><rect x="1216.48" y="429.2" width="2" height="56.4" fill="#089981"/><rect x="1212.78" y="461.0" width="9.4" height="4.2" fill="#089981"/><rect x="1227.81" y="419.2" width="2" height="42.5" fill="#089981"/><rect x="1224.11" y="436.2" width="9.4" height="25.5" fill="#089981"/><rect x="1239.13" y="319.0" width="2" height="116.5" fill="#089981"/><rect x="1235.43" y="341.1" width="9.4" height="94.4" fill="#089981"/><rect x="1250.46" y="246.7" width="2" height="99.0" fill="#089981"/><rect x="1246.76" y="258.7" width="9.4" height="81.7" fill="#089981"/><rect x="1261.79" y="236.0" width="2" height="45.4" fill="#f23645"/><rect x="1258.09" y="258.2" width="9.4" height="8.6" fill="#f23645"/><rect x="1273.12" y="218.8" width="2" height="53.4" fill="#f23645"/><rect x="1269.42" y="266.8" width="9.4" height="5.4" fill="#f23645"/><rect x="1284.44" y="229.0" width="2" height="112.1" fill="#f23645"/><rect x="1280.74" y="269.2" width="9.4" height="67.9" fill="#f23645"/><rect x="1295.77" y="330.6" width="2" height="45.3" fill="#089981"/><rect x="1292.07" y="333.4" width="9.4" height="2.3" fill="#089981"/><rect x="1307.10" y="305.1" width="2" height="167.5" fill="#f23645"/><rect x="1303.40" y="335.7" width="9.4" height="116.7" fill="#f23645"/><rect x="1318.42" y="423.0" width="2" height="54.9" fill="#f23645"/><rect x="1314.72" y="452.4" width="9.4" height="16.2" fill="#f23645"/><rect x="1329.75" y="425.7" width="2" height="59.2" fill="#f23645"/><rect x="1326.05" y="468.6" width="9.4" height="11.6" fill="#f23645"/><rect x="1341.08" y="431.5" width="2" height="64.9" fill="#f23645"/><rect x="1337.38" y="478.3" width="9.4" height="7.5" fill="#f23645"/><rect x="1352.40" y="455.5" width="2" height="46.5" fill="#089981"/><rect x="1348.70" y="463.0" width="9.4" height="23.6" fill="#089981"/><rect x="1363.73" y="429.7" width="2" height="39.9" fill="#089981"/><rect x="1360.03" y="442.9" width="9.4" height="21.1" fill="#089981"/><rect x="1375.06" y="404.6" width="2" height="67.8" fill="#f23645"/><rect x="1371.36" y="441.7" width="9.4" height="10.0" fill="#f23645"/><rect x="1386.39" y="373.1" width="2" height="84.8" fill="#089981"/><rect x="1382.69" y="385.2" width="9.4" height="67.1" fill="#089981"/><rect x="1397.71" y="361.3" width="2" height="36.3" fill="#089981"/><rect x="1394.01" y="366.0" width="9.4" height="21.1" fill="#089981"/><rect x="1409.04" y="361.3" width="2" height="97.4" fill="#f23645"/><rect x="1405.34" y="366.0" width="9.4" height="49.3" fill="#f23645"/><rect x="1420.37" y="385.2" width="2" height="73.5" fill="#f23645"/><rect x="1416.67" y="415.9" width="9.4" height="40.1" fill="#f23645"/><rect x="1431.69" y="454.5" width="2" height="51.3" fill="#f23645"/><rect x="1427.99" y="454.5" width="9.4" height="34.0" fill="#f23645"/><rect x="1443.02" y="445.5" width="2" height="96.7" fill="#f23645"/><rect x="1439.32" y="488.8" width="9.4" height="30.8" fill="#f23645"/><rect x="1454.35" y="463.0" width="2" height="78.2" fill="#089981"/><rect x="1450.65" y="488.1" width="9.4" height="31.5" fill="#089981"/><rect x="1465.67" y="433.4" width="2" height="58.8" fill="#089981"/><rect x="1461.97" y="452.3" width="9.4" height="36.2" fill="#089981"/><rect x="1477.00" y="370.1" width="2" height="84.4" fill="#089981"/><rect x="1473.30" y="398.0" width="9.4" height="54.3" fill="#089981"/><rect x="1488.33" y="368.2" width="2" height="49.6" fill="#f23645"/><rect x="1484.63" y="398.0" width="9.4" height="14.7" fill="#f23645"/><rect x="1499.66" y="346.2" width="2" height="67.8" fill="#089981"/><rect x="1495.96" y="378.2" width="9.4" height="33.4" fill="#089981"/></g>
<text x="35.5" y="90.5" font-size="23.8" fill="#b2b5be" font-weight="normal" letter-spacing="0" text-anchor="start">ChainLink / TetherUS · 4h · Binance</text>
<text x="35.5" y="123.0" font-size="23.6" fill="#b2b5be" font-weight="normal" letter-spacing="0" text-anchor="start">Vol · LINK</text>
<text x="35.5" y="937.0" font-size="23.4" fill="#b2b5be" font-weight="normal" letter-spacing="0" text-anchor="start">Stoch RSI</text>
<path d="M19.5 378.7H1891" stroke="#089981" stroke-width="2" stroke-dasharray="2 3.7737" stroke-dashoffset="1.32" fill="none"/>
<g clip-path="url(#cp)"><path d="M19.5 52.6L1807.4 441M19.5 636.7L1213.9 896.1" stroke="#000" stroke-width="2.1" fill="none" stroke-linecap="round"/></g>
<g clip-path="url(#cps)">
<polyline points="16.8,942.0 28.1,937.3 39.5,933.7 50.8,932.9 62.1,937.3 73.5,956.6 84.8,990.1 96.1,1055.1 107.4,1097.7 118.8,1133.3 130.1,1152.6 141.4,1164.7 152.7,1166.4 164.1,1167.8 175.4,1165.8 186.7,1166.4 198.1,1162.7 209.4,1163.1 220.7,1166.8 232.0,1163.1 243.4,1157.6 254.7,1148.7 266.0,1159.7 277.3,1171.3 288.7,1183.0 300.0,1183.0 311.3,1167.8 322.6,1140.4 334.0,1093.7 345.3,1057.1 356.6,1023.6 368.0,1008.8 379.3,1000.3 390.6,1008.8 401.9,1007.4 413.3,994.2 424.6,962.7 435.9,941.4 447.2,934.3 458.6,957.6 469.9,1008.4 481.2,1077.4 492.6,1133.3 503.9,1158.5 515.2,1161.5 526.5,1154.6 537.9,1134.3 549.2,1103.8 560.5,1077.4 571.8,1047.0 583.2,1005.4 594.5,960.7 605.8,937.7 617.1,935.9 628.5,943.4 639.8,949.5 651.1,955.2 662.5,963.3 673.8,973.9 685.1,993.2 696.4,1001.3 707.8,995.2 719.1,965.8 730.4,947.9 741.7,950.8 753.1,980.5 764.4,1005.4 775.7,1010.0 787.1,989.1 798.4,970.2 809.7,968.2 821.0,987.1 832.4,1014.5 843.7,1034.8 855.0,1057.1 866.3,1077.4 877.7,1102.8 889.0,1095.3 900.3,1057.1 911.7,990.1 923.0,946.5 934.3,929.6 945.6,933.3 957.0,945.5 968.3,965.8 979.6,978.0 990.9,979.0 1002.3,974.9 1013.6,990.1 1024.9,1027.7 1036.2,1067.3 1047.6,1091.7 1058.9,1099.4 1070.2,1115.0 1081.6,1137.3 1092.9,1163.7 1104.2,1178.6 1115.5,1179.0 1126.9,1171.2 1138.2,1148.5 1149.5,1104.8 1160.8,1047.0 1172.2,997.8 1183.5,1000.3 1194.8,1048.0 1206.2,1113.0 1217.5,1150.5 1228.8,1161.1 1240.1,1133.3 1251.5,1083.5 1262.8,1008.4 1274.1,959.7 1285.4,955.2 1296.8,980.0 1308.1,1022.6 1319.4,1077.4 1330.8,1137.3 1342.1,1167.8 1353.4,1179.0 1364.7,1171.2 1376.1,1156.6 1387.4,1134.3 1398.7,1107.9 1410.0,1084.5 1421.4,1078.5 1432.7,1095.3 1444.0,1127.2 1455.3,1148.5 1466.7,1143.7 1478.0,1110.0 1489.3,1053.1 1500.7,999.3" stroke="#ff6d00" stroke-width="2" fill="none" stroke-linejoin="round"/>
<polyline points="16.8,944.0 28.1,929.2 39.5,929.2 50.8,940.0 62.1,940.0 73.5,982.0 84.8,1034.8 96.1,1105.9 107.4,1133.3 118.8,1157.6 130.1,1164.3 141.4,1170.8 152.7,1163.7 164.1,1170.4 175.4,1163.7 186.7,1164.7 198.1,1159.7 209.4,1165.8 220.7,1174.5 232.0,1148.9 243.4,1148.9 254.7,1148.9 266.0,1183.0 277.3,1183.0 288.7,1183.0 300.0,1183.0 311.3,1138.4 322.6,1098.8 334.0,1043.9 345.3,1028.7 356.6,997.8 368.0,999.3 379.3,1002.7 390.6,1023.6 401.9,994.2 413.3,962.7 424.6,929.6 435.9,929.6 447.2,943.4 458.6,1000.3 469.9,1077.4 481.2,1152.6 492.6,1161.1 503.9,1161.7 515.2,1161.7 526.5,1138.4 537.9,1106.9 549.2,1077.4 560.5,1055.1 571.8,1004.3 583.2,946.5 594.5,929.6 605.8,937.3 617.1,942.4 628.5,949.5 639.8,956.6 651.1,960.1 662.5,972.9 673.8,986.1 685.1,1018.6 696.4,999.3 707.8,970.8 719.1,929.6 730.4,944.4 741.7,975.9 753.1,1014.5 764.4,1023.0 775.7,996.2 787.1,958.7 798.4,959.3 809.7,984.0 821.0,1012.5 832.4,1042.9 843.7,1049.0 855.0,1081.5 866.3,1101.8 877.7,1123.1 889.0,1053.1 900.3,985.0 911.7,929.6 923.0,929.6 934.3,929.6 945.6,940.4 957.0,964.7 968.3,989.7 979.6,978.8 990.9,968.8 1002.3,974.9 1013.6,1024.6 1024.9,1079.5 1036.2,1093.7 1047.6,1101.4 1058.9,1101.4 1070.2,1140.4 1081.6,1169.8 1092.9,1183.0 1104.2,1183.0 1115.5,1171.9 1126.9,1159.7 1138.2,1118.0 1149.5,1049.0 1160.8,977.9 1172.2,971.4 1183.5,1048.0 1194.8,1120.1 1206.2,1165.8 1217.5,1165.8 1228.8,1153.6 1240.1,1073.4 1251.5,996.2 1262.8,940.4 1274.1,940.4 1285.4,982.0 1296.8,1020.6 1308.1,1097.7 1319.4,1140.4 1330.8,1183.0 1342.1,1183.0 1353.4,1173.9 1364.7,1156.6 1376.1,1140.4 1387.4,1109.9 1398.7,1079.5 1410.0,1065.3 1421.4,1090.0 1432.7,1131.2 1444.0,1160.7 1455.3,1154.0 1466.7,1117.0 1478.0,1042.0 1489.3,998.2 1500.7,958.0" stroke="#2962ff" stroke-width="2" fill="none" stroke-linejoin="round"/>
</g>
<text x="1056.0" y="562.5" font-size="38.6" fill="#0f0f0f" font-weight="bold" letter-spacing="0" text-anchor="start">Supports</text>
<text x="1909.5" y="122.7" font-size="23" fill="#b2b5be" font-weight="normal" letter-spacing="1.5" text-anchor="start">24.50</text>
<text x="1909.5" y="190.1" font-size="23" fill="#b2b5be" font-weight="normal" letter-spacing="1.5" text-anchor="start">24.00</text>
<text x="1909.5" y="257.4" font-size="23" fill="#b2b5be" font-weight="normal" letter-spacing="1.5" text-anchor="start">23.50</text>
<text x="1909.5" y="324.8" font-size="23" fill="#b2b5be" font-weight="normal" letter-spacing="1.5" text-anchor="start">23.00</text>
<text x="1909.5" y="459.4" font-size="23" fill="#b2b5be" font-weight="normal" letter-spacing="1.5" text-anchor="start">22.00</text>
<text x="1909.5" y="661.5" font-size="23" fill="#b2b5be" font-weight="normal" letter-spacing="1.5" text-anchor="start">20.50</text>
<text x="1909.5" y="728.9" font-size="23" fill="#b2b5be" font-weight="normal" letter-spacing="1.5" text-anchor="start">20.00</text>
<text x="1909.5" y="796.2" font-size="23" fill="#b2b5be" font-weight="normal" letter-spacing="1.5" text-anchor="start">19.50</text>
<text x="1909.5" y="863.6" font-size="23" fill="#b2b5be" font-weight="normal" letter-spacing="1.5" text-anchor="start">19.00</text>
<text x="1909.5" y="938.0" font-size="23" fill="#b2b5be" font-weight="normal" letter-spacing="1.5" text-anchor="start">100.00</text>
<text x="1909.5" y="1001.2" font-size="23" fill="#b2b5be" font-weight="normal" letter-spacing="1.5" text-anchor="start">75.00</text>
<text x="1909.5" y="1064.5" font-size="23" fill="#b2b5be" font-weight="normal" letter-spacing="1.5" text-anchor="start">50.00</text>
<text x="1909.5" y="1127.7" font-size="23" fill="#b2b5be" font-weight="normal" letter-spacing="1.5" text-anchor="start">25.00</text>
<text x="1909.5" y="1190.9" font-size="23" fill="#b2b5be" font-weight="normal" letter-spacing="1.5" text-anchor="start">0.00</text>
<path d="M1892.8 362.4H2016a3 3 0 0 1 3 3V418.8a3 3 0 0 1-3 3H1892.8Z" fill="#089981"/>
<path d="M1892.8 503.5H1979.6a3 3 0 0 1 3 3V533a3 3 0 0 1-3 3H1892.8Z" fill="#ff9800"/>
<path d="M1892.8 573H1979.6a3 3 0 0 1 3 3V601.6a3 3 0 0 1-3 3H1892.8Z" fill="#ff9800"/>
<text x="1909.5" y="386.5" font-size="23" fill="#fff" font-weight="normal" letter-spacing="1.5" text-anchor="start">22.54</text>
<text x="1909.5" y="414.5" font-size="23" fill="#fff" font-weight="normal" letter-spacing="1.2" text-anchor="start">01:01:14</text>
<text x="1909.5" y="528.0" font-size="23" fill="#131722" font-weight="normal" letter-spacing="1.5" text-anchor="start">21.49</text>
<text x="1909.5" y="597.0" font-size="23" fill="#131722" font-weight="normal" letter-spacing="1.5" text-anchor="start">20.98</text>
<path d="M1798 848.6H1890.9V880.8H1798a3 3 0 0 1-3-3V851.6a3 3 0 0 1 3-3Z" fill="#089981" fill-opacity="0.85"/>
<text x="1803.5" y="873.2" font-size="22.6" fill="#fff" font-weight="normal" letter-spacing="0.9" text-anchor="start">Volume</text>
<rect x="1893" y="56" width="134" height="61" fill="#fff"/>
<rect x="1899" y="59.5" width="122" height="49.5" rx="7" fill="#fff" stroke="#eef0f3" stroke-width="1.2"/>
<text x="1916.5" y="91.9" font-size="23" fill="#131722" font-weight="normal" letter-spacing="0" text-anchor="start">USDT</text>
<text x="51.5" y="1246.7" font-size="23" fill="#b2b5be" font-weight="normal" letter-spacing="1.5" text-anchor="middle">19</text>
<text x="187.5" y="1246.7" font-size="23" fill="#b2b5be" font-weight="normal" letter-spacing="1.5" text-anchor="middle">21</text>
<text x="323.4" y="1246.7" font-size="23" fill="#b2b5be" font-weight="normal" letter-spacing="1.5" text-anchor="middle">23</text>
<text x="459.3" y="1246.7" font-size="23" fill="#b2b5be" font-weight="normal" letter-spacing="1.5" text-anchor="middle">25</text>
<text x="595.2" y="1246.7" font-size="23" fill="#b2b5be" font-weight="normal" letter-spacing="1.5" text-anchor="middle">27</text>
<text x="731.2" y="1246.7" font-size="23" fill="#b2b5be" font-weight="normal" letter-spacing="1.5" text-anchor="middle">29</text>
<text x="866.3" y="1246.7" font-size="23" fill="#b2b5be" font-weight="bold" letter-spacing="0" text-anchor="middle">Oct</text>
<text x="1003.0" y="1246.7" font-size="23" fill="#b2b5be" font-weight="normal" letter-spacing="1.5" text-anchor="middle">3</text>
<text x="1138.9" y="1246.7" font-size="23" fill="#b2b5be" font-weight="normal" letter-spacing="1.5" text-anchor="middle">5</text>
<text x="1274.9" y="1246.7" font-size="23" fill="#b2b5be" font-weight="normal" letter-spacing="1.5" text-anchor="middle">7</text>
<text x="1410.8" y="1246.7" font-size="23" fill="#b2b5be" font-weight="normal" letter-spacing="1.5" text-anchor="middle">9</text>
<text x="1546.7" y="1246.7" font-size="23" fill="#b2b5be" font-weight="normal" letter-spacing="1.5" text-anchor="middle">11</text>
<text x="1682.6" y="1246.7" font-size="23" fill="#b2b5be" font-weight="normal" letter-spacing="1.5" text-anchor="middle">13</text>
<text x="1818.6" y="1246.7" font-size="23" fill="#b2b5be" font-weight="normal" letter-spacing="1.5" text-anchor="middle">15</text>
<path d="M23.1 1306.2H45.9V1334.7H34.2V1317.1H23.1Z" fill="#d9d9d9"/>
<circle cx="55.4" cy="1311.6" r="5.5" fill="#d9d9d9"/>
<path d="M66.5 1306.2H80.4L68.9 1334.7H55.6Z" fill="#d9d9d9"/>
<text x="94.0" y="1335.0" font-size="40" fill="#d9d9d9" font-weight="bold" letter-spacing="-0.5" text-anchor="start">TradingView</text>
<g fill="#d1d1d1" transform="translate(1919 1353)">
<path d="M0-14L8-6L5-3L0-8L-5-3L-8-6Z"/><path d="M0 14L8 6L5 3L0 8L-5 3L-8 6Z"/>
<path d="M-10.5-3L-14 0L-10.5 3L-7.5 0Z"/><path d="M10.5-3L14 0L10.5 3L7.5 0Z"/><path d="M0-3L3 0L0 3L-3 0Z"/>
</g>
<text x="1938.5" y="1360.5" font-size="19.5" fill="#dcdcdc" font-weight="normal" letter-spacing="0" text-anchor="start">@</text>
<text x="1963.0" y="1363.0" font-size="23" fill="#ffffff" font-weight="normal" letter-spacing="0" text-anchor="start">asaph1</text>
<text x="19.0" y="38.4" font-size="24.5" fill="#dcdcdc" font-weight="normal" letter-spacing="0" text-anchor="start">cryptodailyuk created with TradingView.com, Oct 10, 2025 12:58 UTC+2</text>
</svg>
</body></html>
